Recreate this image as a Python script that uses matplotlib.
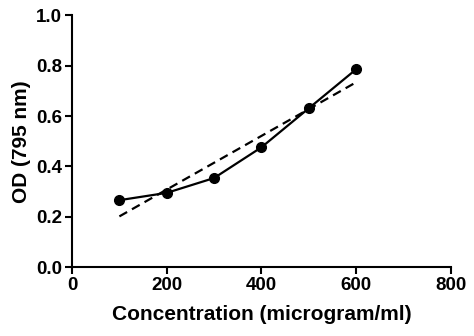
import numpy as np
import matplotlib.pyplot as plt

plt.rcParams['font.family'] = ['Liberation Sans', 'DejaVu Sans']
plt.rcParams['font.weight'] = 'bold'

concentration = [100, 200, 300, 400, 500, 600]
od = [0.266, 0.295, 0.354, 0.476, 0.631, 0.786]

x_ticks = [0, 200, 400, 600, 800]
y_ticks = [0.0, 0.2, 0.4, 0.6, 0.8, 1.0]

fig = plt.figure(figsize=(4.74, 3.36), dpi=100)
ax = fig.add_axes([0.152, 0.205, 0.799, 0.749])

ax.plot(concentration, od, '-o', color='black', lw=1.6, ms=7, zorder=3)

# linear fit
slope, icept = np.polyfit(concentration, od, 1)
xf = np.array([concentration[0], concentration[-1]])
ax.plot(xf, slope * xf + icept, '--', color='black', lw=1.6, dashes=(4, 2.5))

ax.set_xlim(0, 800)
ax.set_ylim(0, 1.0)
ax.set_xticks(x_ticks)
ax.set_yticks(y_ticks)
ax.set_yticklabels([f'{v:.1f}' for v in y_ticks])

for s in ['top', 'right']:
    ax.spines[s].set_visible(False)
for s in ['left', 'bottom']:
    ax.spines[s].set_linewidth(1.5)

ax.tick_params(width=1.5, length=5, labelsize=13.5, pad=2)
for lab in ax.get_xticklabels() + ax.get_yticklabels():
    lab.set_fontweight('bold')

ax.set_xlabel('Concentration (microgram/ml)', fontsize=15, fontweight='bold', labelpad=8)
ax.set_ylabel('OD (795 nm)', fontsize=15, fontweight='bold', labelpad=4)

fig.savefig('out.png', dpi=100)
